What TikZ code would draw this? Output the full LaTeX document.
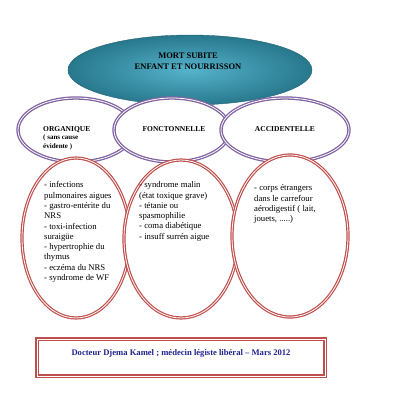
\documentclass[tikz,border=0pt]{standalone}
\usepackage{fontspec}
\setmainfont{Liberation Serif}
\usetikzlibrary{shapes.geometric}
\definecolor{purp}{HTML}{8064A2}
\definecolor{redd}{HTML}{C0504D}
\definecolor{tealin}{HTML}{55B3CB}
\definecolor{tealout}{HTML}{28788D}
\definecolor{navy}{HTML}{22238F}
\begin{document}
\begin{tikzpicture}[x=1pt,y=-1pt,
  oval/.style={ellipse, inner sep=0pt, fill=white, line width=1.3pt, double=white, double distance=0.8pt},
  catoval/.style={oval, draw=purp},
  listoval/.style={oval, draw=redd, line width=1.2pt},
  cattext/.style={font=\fontsize{7.5}{9}\selectfont\bfseries, inner sep=0pt},
  listtext/.style={font=\fontsize{8.7}{10.3}\selectfont, inner sep=0pt, anchor=north west, align=left},
]
\useasboundingbox (0,0) rectangle (400,400);
% top ellipse
\node[ellipse, inner sep=0pt, minimum width=244pt, minimum height=70pt, draw=tealout!80!black, line width=0.4pt,
      inner color=tealin, outer color=tealout] (top) at (190,70) {};
\node[font=\fontsize{8.5}{11}\selectfont\bfseries, align=center, inner sep=0pt] (toptext) at (188,61)
  {MORT SUBITE\\ENFANT ET NOURRISSON};
% category ellipses
\node[catoval, minimum width=116pt, minimum height=64pt] (org) at (76,130) {};
\node[catoval, minimum width=116pt, minimum height=64pt] (fon) at (172,130) {};
\node[catoval, minimum width=128pt, minimum height=64pt] (acc) at (285,130) {};
\node[cattext, anchor=base west] (orgt) at (43,131) {ORGANIQUE};
\node[font=\fontsize{7}{9.2}\selectfont\bfseries, inner sep=0pt, anchor=north west, align=left] (orgs) at (43,134) {( sans cause\\évidente )};
\node[cattext, anchor=base] (font) at (174,131) {FONCTONNELLE};
\node[cattext, anchor=base] (acct) at (285,131) {ACCIDENTELLE};
% list ellipses
\node[listoval, minimum width=108pt, minimum height=160pt] (l1) at (76,238) {};
\node[listoval, minimum width=114pt, minimum height=158pt] (l2) at (181,239) {};
\node[listoval, minimum width=116pt, minimum height=162pt] (l3) at (290,236) {};
\node[listtext] (t1) at (44,181.5) {- infections\\pulmonaires aigues\\- gastro-entérite du\\NRS\\- toxi-infection\\suraigüe\\- hypertrophie du\\thymus\\- eczéma du NRS\\- syndrome de WF};
\node[listtext] (t2) at (139,181.5) {- syndrome malin\\(état toxique grave)\\- tétanie ou\\spasmophilie\\- coma diabétique\\- insuff surrén aigue};
\node[listtext] (t3) at (254,184.5) {- corps étrangers\\dans le carrefour\\aérodigestif ( lait,\\jouets, .....)};
% bottom box
\node[draw=redd, line width=1.3pt, double=white, double distance=0.8pt, fill=white, inner sep=0pt,
      minimum width=288pt, minimum height=37pt] (box) at (181,357.5) {};
\node[font=\fontsize{8.6}{10}\selectfont\bfseries, text=navy, inner sep=0pt, anchor=base] (boxt) at (181,355)
  {Docteur Djema Kamel ; médecin légiste libéral – Mars 2012};
\end{tikzpicture}
\end{document}
